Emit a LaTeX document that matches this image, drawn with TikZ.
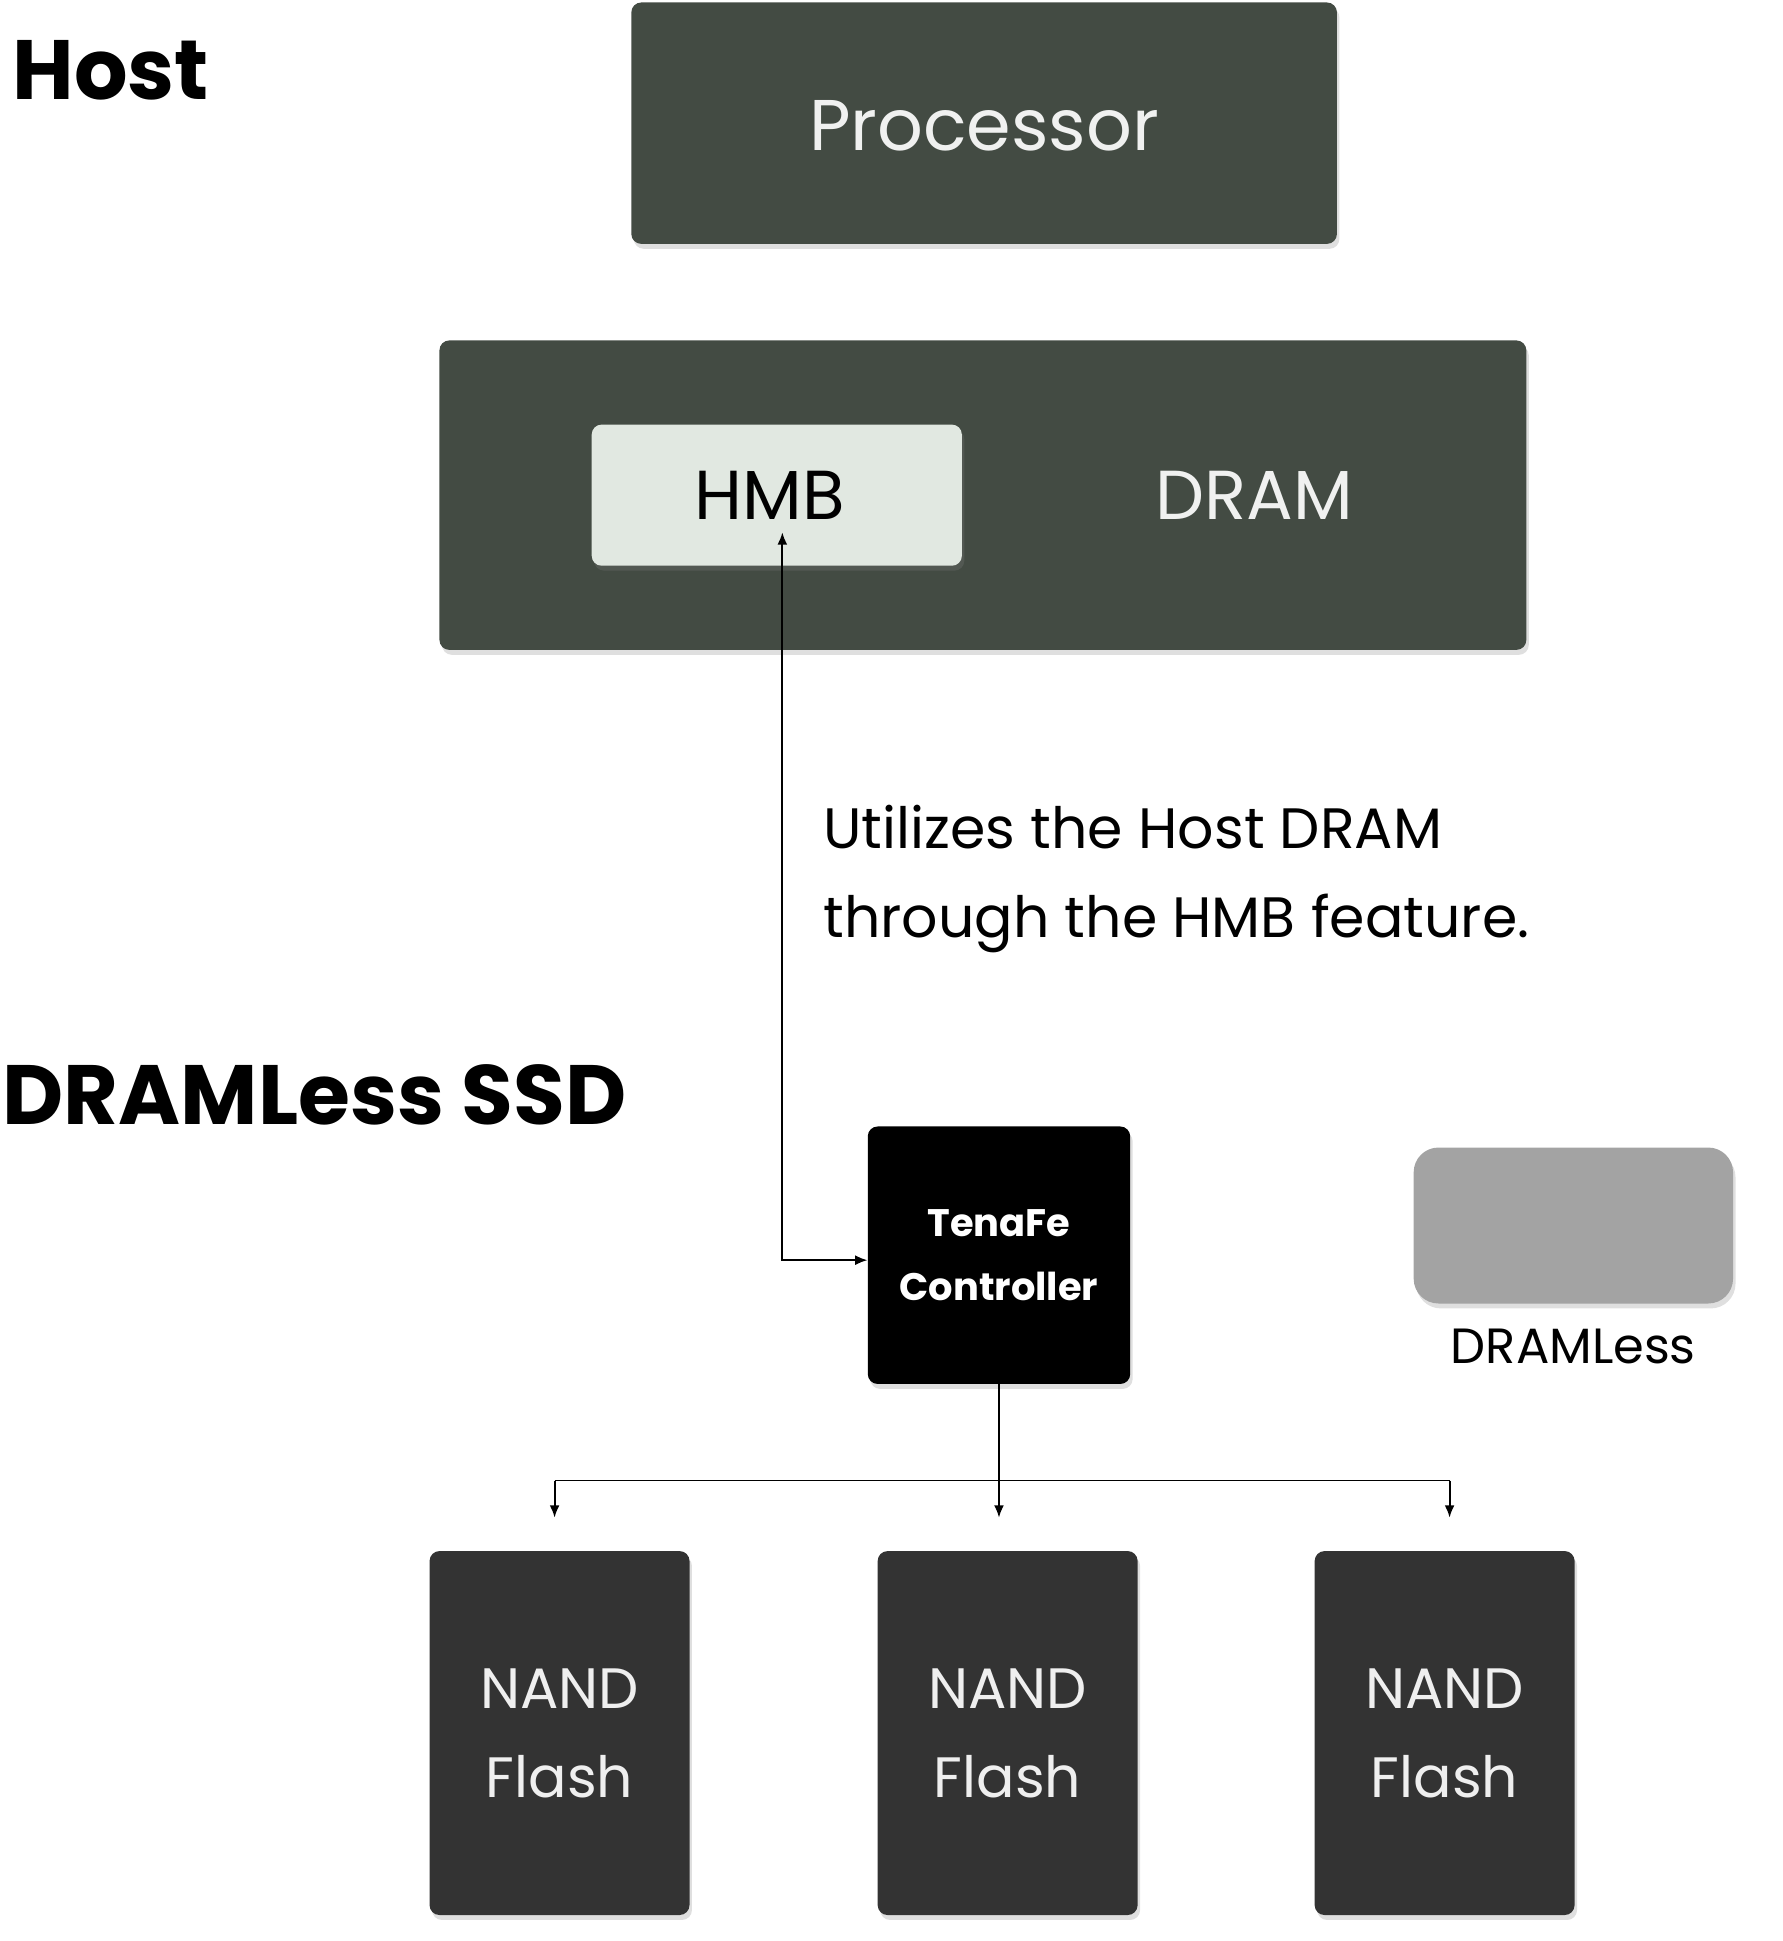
\documentclass[tikz,border=0pt]{standalone}
\usepackage{fontspec}
\setmainfont{Poppins}
\usetikzlibrary{shadows,arrows.meta}
\definecolor{dk}{HTML}{434B43}
\definecolor{hm}{HTML}{E1E8E1}
\definecolor{nd}{HTML}{333333}
\definecolor{gr}{HTML}{A3A3A3}
\begin{document}
\begin{tikzpicture}[x=1pt,y=-1pt,
  box/.style={rounded corners=8pt, draw=none, drop shadow={shadow xshift=2pt,shadow yshift=-4pt,opacity=0.25}},
  lbl/.style={inner sep=0pt, anchor=center},
  arr/.style={-{Latex[length=10pt,width=8pt]}, line width=1.5pt}]
\useasboundingbox (0,0) rectangle (1440,1568);
\node[box, fill=dk, minimum width=570pt, minimum height=195pt] (proc) at (795,99.5) {};
\node[lbl, text=white!92!dk, font=\fontsize{58}{70}\selectfont] at (795,102) {Processor};
\node[box, fill=dk, minimum width=878pt, minimum height=250pt] (dram) at (794,400) {};
\node[box, fill=hm, minimum width=299pt, minimum height=114pt] (hmb) at (627.5,400) {};
\node[lbl, text=black, font=\fontsize{56}{70}\selectfont] at (622,400) {HMB};
\node[lbl, text=white!92!dk, font=\fontsize{56}{70}\selectfont] at (1013,400) {DRAM};
\node[anchor=base west, inner sep=0pt, font=\fontsize{68}{80}\bfseries\selectfont] (host) at (10,80) {Host};
\node[anchor=base west, inner sep=0pt, font=\fontsize{68}{80}\bfseries\selectfont] (ssd) at (2,908) {DRAMLess SSD};
\node[anchor=north west, inner sep=0pt, align=left, font=\fontsize{46}{72}\selectfont] (note) at (665,650) {Utilizes the Host DRAM\\through the HMB feature.};
\node[box, fill=black, minimum width=212pt, minimum height=208pt, align=center, text=white, font=\fontsize{31}{51}\bfseries\selectfont] (ctrl) at (807,1014) {TenaFe\\Controller};
\node[box, rounded corners=20pt, fill=gr, minimum width=258pt, minimum height=126pt] (gbox) at (1271,990) {};
\node[lbl, font=\fontsize{40}{48}\selectfont] (gl) at (1271,1088) {DRAMLess};
\foreach \n/\x in {n1/452, n2/814, n3/1167}{
  \node[box, fill=nd, minimum width=210pt, minimum height=294pt, align=center, text=white!92!nd, font=\fontsize{46}{72}\selectfont] (\n) at (\x,1400) {NAND\\Flash};
}
\coordinate (hb) at (632,430);
\coordinate (cw) at (632,1018);
\draw[arr, {Latex[length=10pt,width=8pt]}-{Latex[length=10pt,width=8pt]}] (hb) -- (cw) -- (ctrl.west |- cw);
\coordinate (j1) at (448,1196);
\coordinate (j3) at (1171,1196);
\draw[line width=1.5pt] (ctrl.south) -- (807,1196);
\draw[line width=1.5pt] (j1) -- (j3);
\draw[arr] (807,1196) -- (807,1226);
\draw[arr] (j1) -- (448,1226);
\draw[arr] (j3) -- (1171,1226);
\end{tikzpicture}
\end{document}
